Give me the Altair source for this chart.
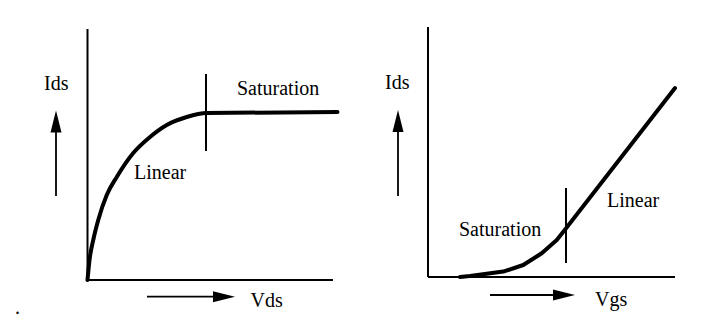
import altair as alt
import pandas as pd

# ---- data ----
# Left: output characteristic (Ids vs Vds)
vds = [0, 0.08, 0.23, 0.43, 0.77, 1.17, 1.83, 2.5, 3.17, 3.97, 4.77, 10.0]
ids_out = [0, 1.0, 2.0, 3.0, 4.25, 5.15, 6.35, 7.15, 7.75, 8.15, 8.35, 8.4]
# Right: transfer characteristic (Ids vs Vgs)
vgs = [1.28, 1.68, 3.01, 3.81, 4.55, 5.15, 5.5, 9.88]
ids_tr = [0, 0.05, 0.27, 0.6, 1.19, 1.85, 2.4, 9.45]

# annotation texts
left_labels = ["Ids", "Saturation", "Linear", "Vds", "."]
right_labels = ["Ids", "Saturation", "Linear", "Vgs"]

# annotation placement (data units of each panel)
left_label_x = [-1.74, 5.98, 1.86, 6.52, -2.9]
left_label_y = [9.5, 9.25, 5.05, -1.35, -1.7]
right_label_x = [-1.72, 1.24, 7.16, 6.68]
right_label_y = [9.4, 2.05, 3.5, -1.45]

FONT = "Liberation Serif"
UP_HEAD = "M0,-1L0.5,1L-0.5,1Z"
RIGHT_HEAD = "M1,0L-1,-0.5L-1,0.5Z"


def panel(xdom, ydom, curve, axes, tick, up, right, labels, interp):
    xs = alt.Scale(domain=xdom, nice=False, zero=False)
    ys = alt.Scale(domain=ydom, nice=False, zero=False)

    def X(f):
        return alt.X(f, type="quantitative", scale=xs, axis=None)

    def Y(f):
        return alt.Y(f, type="quantitative", scale=ys, axis=None)

    line = alt.Chart(curve).mark_line(
        color="black", strokeWidth=4, interpolate=interp, strokeCap="round", strokeJoin="round"
    ).encode(x=X("x"), y=Y("y"), order="i:Q")

    segs = pd.DataFrame(axes + tick + [up[0], right[0]])
    widths = [2, 2, 2, 1.8, 1.8]
    segs["w"] = widths
    rules = alt.Chart(segs).mark_rule(color="black").encode(
        x=X("x"), x2="x2", y=Y("y"), y2="y2",
        strokeWidth=alt.StrokeWidth("w:Q", scale=None, legend=None),
    )

    up_head = alt.Chart(pd.DataFrame([up[1]])).mark_point(
        shape=UP_HEAD, filled=True, color="black", size=484, opacity=1
    ).encode(x=X("x"), y=Y("y"))
    right_head = alt.Chart(pd.DataFrame([right[1]])).mark_point(
        shape=RIGHT_HEAD, filled=True, color="black", size=484, opacity=1
    ).encode(x=X("x"), y=Y("y"))

    text = alt.Chart(labels).mark_text(
        font=FONT, fontSize=20, color="black", align="left", baseline="alphabetic"
    ).encode(x=X("x"), y=Y("y"), text="t:N")

    return alt.layer(line, rules, up_head, right_head, text).properties(width=360, height=325)


left_curve = pd.DataFrame({"x": vds, "y": ids_out, "i": range(len(vds))})
right_curve = pd.DataFrame({"x": vgs, "y": ids_tr, "i": range(len(vgs))})

left = panel(
    [-3.5, 10.9], [-2.25, 14], left_curve,
    axes=[{"x": 0, "x2": 0, "y": 0, "y2": 12.55}, {"x": 0, "x2": 9.82, "y": 0, "y2": 0}],
    tick=[{"x": 4.74, "x2": 4.74, "y": 6.45, "y2": 10.3}],
    up=({"x": -1.26, "x2": -1.26, "y": 4.2, "y2": 8.2}, {"x": -1.26, "y": 7.92}),
    right=({"x": 2.38, "x2": 5.4, "y": -0.835, "y2": -0.835}, {"x": 5.46, "y": -0.835}),
    labels=pd.DataFrame({"x": left_label_x, "y": left_label_y, "t": left_labels}),
    interp="monotone",
)

right = panel(
    [-2.72, 11.68], [-2.4, 13.85], right_curve,
    axes=[{"x": 0, "x2": 0, "y": 0, "y2": 12.5}, {"x": 0, "x2": 9.88, "y": 0, "y2": 0}],
    tick=[{"x": 5.52, "x2": 5.52, "y": 0.7, "y2": 4.45}],
    up=({"x": -1.2, "x2": -1.2, "y": 4.05, "y2": 8.0}, {"x": -1.2, "y": 7.8}),
    right=({"x": 2.48, "x2": 5.4, "y": -0.9, "y2": -0.9}, {"x": 5.44, "y": -0.9}),
    labels=pd.DataFrame({"x": right_label_x, "y": right_label_y, "t": right_labels}),
    interp="linear",
)

chart = alt.hconcat(left, right, spacing=0).properties(
    padding=0, background="white"
).configure_view(stroke=None)

chart.save("out.html", embed_options={"renderer": "svg", "actions": False})
